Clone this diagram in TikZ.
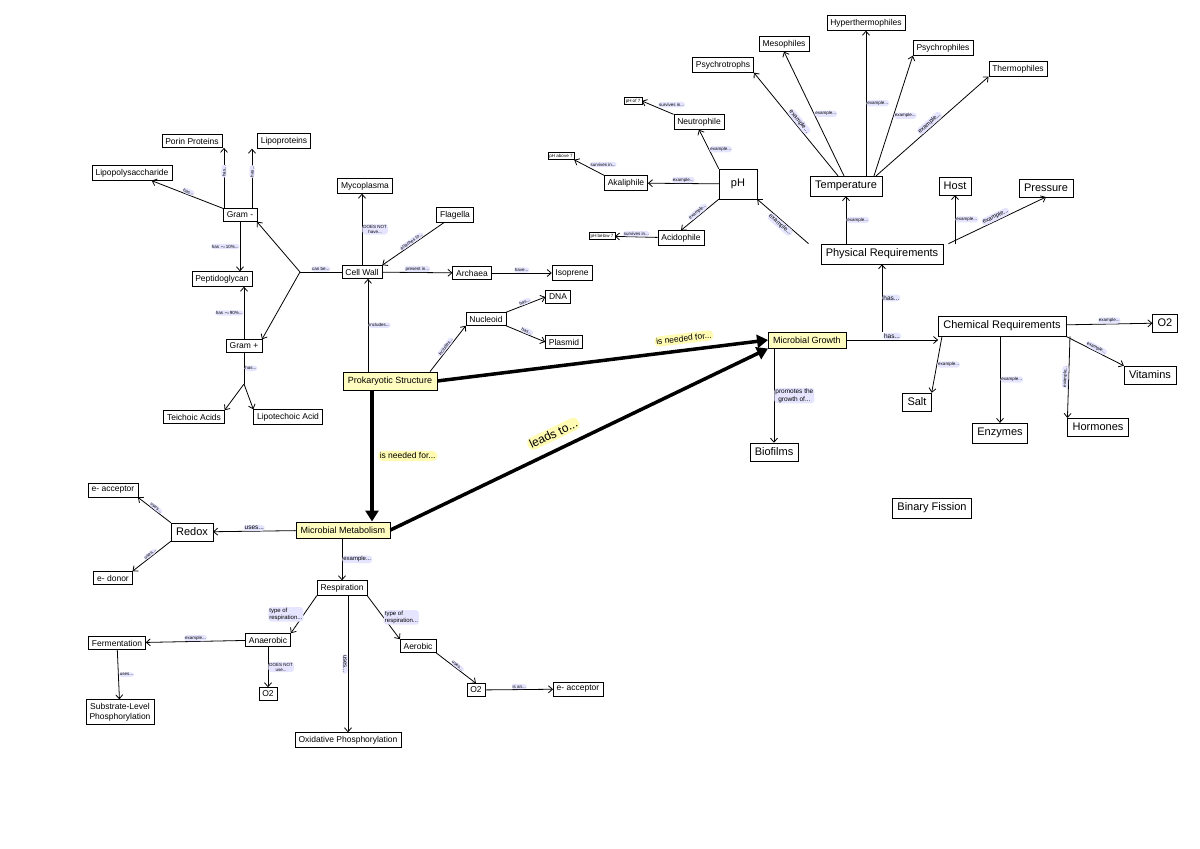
\documentclass[tikz,border=0pt]{standalone}
\usepackage{fontspec}
\setmainfont{Liberation Sans}
\usetikzlibrary{arrows.meta}
\tikzset{
  box/.style={draw, inner sep=3.5pt, font=\fontsize{8.5}{10}\selectfont, align=center},
  bigbox/.style={box, inner sep=5pt, font=\fontsize{11}{12}\selectfont},
  tiny/.style={box, inner sep=1.5pt, font=\fontsize{4.5}{5}\selectfont},
  key/.style={box, fill=yellow!25, inner sep=5pt, font=\fontsize{9}{10}\selectfont},
  lab/.style={fill=blue!10, rounded corners=3pt, inner sep=1pt, font=\fontsize{4.5}{5}\selectfont, align=center},
  arr/.style={-{Straight Barb[length=4pt,width=7pt]}, thick},
  big/.style={-{Triangle[length=11pt,width=13pt]}, line width=3.5pt},
  hl/.style={fill=yellow!30, rounded corners=5pt, inner sep=2pt, font=\fontsize{8.5}{9}\selectfont}
}
\begin{document}
\begin{tikzpicture}[x=1pt,y=-1pt]
	\useasboundingbox (0,0) rectangle (1200,849);
	% Prokaryotic Structure %
	\node[box] (porin) at (192,141) {Porin Proteins};
	\node[box] (lipopro) at (284,141) {Lipoproteins};
	\node[box] (lps) at (132,173) {Lipopolysaccharide};
	\node[box] (gramn) at (240,215) {Gram -};
	\node[box] (pepti) at (222,279) {Peptidoglycan};
	\node[box] (gramp) at (244,346) {Gram +};
	\node[box] (teich) at (194,417) {Teichoic Acids};
	\node[box] (lipot) at (288,417) {Lipotechoic Acid};
	\node[box] (myco) at (365,186) {Mycoplasma};
	\node[box] (flag) at (455,215) {Flagella};
	\node[box] (wall) at (362,272) {Cell Wall};
	\node[box] (arch) at (472,273) {Archaea};
	\node[box] (iso) at (572,273) {Isoprene};
	\node[box] (dna) at (558,297) {DNA};
	\node[box] (nucl) at (486,319) {Nucleoid};
	\node[box] (plas) at (564,342) {Plasmid};
	\node[key] (pro) at (390,381) {Prokaryotic Structure};
	\coordinate (fork1) at (300,272);
	\coordinate (fork2) at (244,384);
	\draw[arr] (gramn) -- node[lab, sloped, above] {has...} (lps);
	\draw[arr] ([xshift=-16pt]gramn.north) -- node[lab, sloped, right] {has...} ([xshift=-16pt]gramn.north |- porin.south);
	\draw[arr] ([xshift=12pt]gramn.north) -- node[lab, sloped, right] {has...} ([xshift=12pt]gramn.north |- lipopro.south);
	\draw[arr] (gramn.south) -- node[lab, left] {has $\sim$10\%...} (gramn.south |- pepti.north);
	\draw[arr] (gramp.north) -- node[lab, left] {has $\sim$90\%...} (gramp.north |- pepti.south);
	\draw[thick] (wall) -- node[lab, above] {can be...} (fork1);
	\draw[arr] (fork1) -- (gramn.south east);
	\draw[arr] (fork1) -- (gramp.north east);
	\draw[thick] (gramp) -- node[lab, right] {has...} (fork2);
	\draw[arr] (fork2) -- (teich.north east);
	\draw[arr] (fork2) -- (lipot.north west);
	\draw[arr] (wall.north) -- node[lab, right] {DOES NOT\\have...} (wall.north |- myco.south);
	\draw[arr] (flag) -- node[lab, sloped, above] {attaches to...} (wall.north east);
	\draw[arr] (wall) -- node[lab, above] {present in...} (arch);
	\draw[arr] (arch) -- node[lab, above] {have...} (iso);
	\draw[arr] (nucl.north east) -- node[lab, sloped, above] {has...} (dna.west);
	\draw[arr] (nucl.south east) -- node[lab, sloped, above] {has...} (plas.west);
	\draw[arr] ([xshift=-22pt]pro.north) -- node[lab, right] {includes...} ([xshift=-22pt]pro.north |- wall.south);
	\draw[arr] ([xshift=40pt]pro.north) -- node[lab, sloped, above] {includes...} (nucl.south west);
	% Microbial Growth %
	\node[key] (growth) at (807,340) {Microbial Growth};
	\node[bigbox] (bio) at (774,452) {Biofilms};
	\node[bigbox] (chem) at (1002,326) {Chemical Requirements};
	\node[bigbox] (o2c) at (1165,323) {O2};
	\node[bigbox] (salt) at (917,402) {Salt};
	\node[bigbox] (enz) at (1000,433) {Enzymes};
	\node[bigbox] (horm) at (1098,427) {Hormones};
	\node[bigbox] (vit) at (1150,375) {Vitamins};
	\node[bigbox] (phys) at (882,254) {Physical Requirements};
	\node[bigbox] (temp) at (846,186) {Temperature};
	\node[bigbox] (host) at (955,186) {Host};
	\node[bigbox] (pres) at (1046,188) {Pressure};
	\node[bigbox, minimum width=38pt, minimum height=30pt] (ph) at (738,184) {pH};
	\node[box] (akal) at (626,183) {Akaliphile};
	\node[box] (neut) at (699,122) {Neutrophile};
	\node[box] (acid) at (681,238) {Acidophile};
	\node[tiny] (ph7) at (633,101) {pH of 7};
	\node[tiny] (phab) at (561,156) {pH above 7};
	\node[tiny] (phbe) at (602,236) {pH below 7};
	\node[box] (psyt) at (723,65) {Psychrotrophs};
	\node[box] (meso) at (784,44) {Mesophiles};
	\node[box] (hyper) at (866,23) {Hyperthermophiles};
	\node[box] (psyp) at (943,48) {Psychrophiles};
	\node[box] (therm) at (1018,69) {Thermophiles};
	\node[bigbox] (fission) at (932,508) {Binary Fission};
	\draw[arr] (growth.south -| bio.north) -- node[lab, right, font=\fontsize{6.5}{7.5}\selectfont] {promotes the\\growth of...} (bio.north);
	\draw[arr] (growth.east) -- node[lab, above, font=\fontsize{6.5}{7.5}\selectfont] {has...} (growth.east -| chem.west);
	\draw[arr] (growth.north -| phys.south) -- node[lab, right, font=\fontsize{6.5}{7.5}\selectfont] {has...} (phys.south);
	\draw[arr] (chem) -- node[lab, above] {example...} (o2c);
	\draw[arr] ([xshift=-60pt]chem.south) -- node[lab, right] {example...} (salt.north east);
	\draw[arr] (chem.south -| enz.north) -- node[lab, right] {example...} (enz.north);
	\draw[arr] ([xshift=68pt]chem.south) -- node[lab, sloped, above] {example...} (horm.north west);
	\draw[arr] (chem.south east) -- node[lab, sloped, above] {example...} (vit.north west);
	\draw[arr] (phys.north -| temp.south) -- node[lab, right] {example...} (temp.south);
	\draw[arr] (phys.north -| host.south) -- node[lab, right] {example...} (host.south);
	\draw[arr] ([xshift=5pt]phys.north east) -- node[lab, sloped, above, font=\fontsize{6}{7}\selectfont] {example...} (pres.south);
	\draw[arr] ([xshift=-12pt]phys.north west) -- node[lab, sloped, below, font=\fontsize{6}{7}\selectfont] {example...} (ph.south east);
	\draw[arr] (ph) -- node[lab, above] {example...} (akal);
	\draw[arr] (ph.north west) -- node[lab, right] {example...} (neut.south);
	\draw[arr] (ph.south west) -- node[lab, sloped, above] {example...} (acid.north);
	\draw[arr] (akal.north west) -- node[lab, above right] {survives in...} (phab.south east);
	\draw[arr] (neut.north west) -- node[lab, above right] {survives in...} (ph7.east);
	\draw[arr] (acid) -- node[lab, above] {survives in...} (phbe);
	\draw[arr] ([xshift=-8pt]temp.north) -- node[lab, sloped, above, font=\fontsize{6}{7}\selectfont] {example...} (psyt.south east);
	\draw[arr] ([xshift=-2pt]temp.north) -- node[lab, right] {example...} (meso.south);
	\draw[arr] ([xshift=20pt]temp.north) -- node[lab, right] {example...} (hyper.south);
	\draw[arr] ([xshift=28pt]temp.north) -- node[lab, right] {example...} (psyp.south west);
	\draw[arr] ([xshift=-6pt]temp.north east) -- node[lab, sloped, above, font=\fontsize{6}{7}\selectfont] {example...} (therm.south west);
	% Microbial Metabolism %
	\node[key] (meta) at (343,530) {Microbial Metabolism};
	\node[bigbox] (redox) at (192,532) {Redox};
	\node[box] (eacc) at (113,490) {e- acceptor};
	\node[box] (edon) at (113,578) {e- donor};
	\node[box] (resp) at (342,588) {Respiration};
	\node[box] (anae) at (268,640) {Anaerobic};
	\node[box] (aero) at (418,646) {Aerobic};
	\node[box] (ferm) at (117,643) {Fermentation};
	\node[box] (slp) at (120,712) {Substrate-Level\\Phosphorylation};
	\node[box] (o2a) at (268,694) {O2};
	\node[box] (o2b) at (476,690) {O2};
	\node[box] (eacc2) at (578,689) {e- acceptor};
	\node[box] (oxph) at (348,740) {Oxidative Phosphorylation};
	\draw[arr] (meta) -- node[lab, above, font=\fontsize{6.5}{7.5}\selectfont] {uses...} (redox);
	\draw[arr] (redox.north west) -- node[lab, sloped, above] {uses...} (eacc.south east);
	\draw[arr] (redox.south west) -- node[lab, sloped, above] {uses...} (edon.north east);
	\draw[arr] (meta.south -| resp.north) -- node[lab, right, font=\fontsize{6}{7}\selectfont] {example...} (resp.north);
	\draw[arr] (resp.south west) -- node[lab, left, font=\fontsize{6}{7}\selectfont, align=left] {type of\\respiration...} (anae.north east);
	\draw[arr] (resp.south east) -- node[lab, right, font=\fontsize{6}{7}\selectfont, align=left] {type of\\respiration...} (aero.north west);
	\draw[arr] (resp.south -| oxph.north) -- node[lab, sloped, below, font=\fontsize{6}{7}\selectfont] {uses...} (oxph.north);
	\draw[arr] (anae) -- node[lab, above] {example...} (ferm);
	\draw[arr] (anae) -- node[lab, right] {DOES NOT\\use...} (o2a);
	\draw[arr] (ferm) -- node[lab, right] {uses...} (slp);
	\draw[arr] (aero.south east) -- node[lab, sloped, above] {uses...} (o2b.north);
	\draw[arr] (o2b) -- node[lab, above] {is an...} (eacc2);
	% Big links %
	\draw[big] (pro.east) -- node[hl, sloped, pos=0.75, above=5pt] {is needed for...} (growth.west);
	\draw[big] (meta.east) -- node[hl, sloped, pos=0.45, above=8pt, font=\fontsize{12}{13}\selectfont] {leads to...} (growth.south west);
	\draw[big] ([xshift=-18pt]pro.south) -- node[hl, right=4pt] {is needed for...} ([xshift=-18pt]pro.south |- meta.north);
\end{tikzpicture}
\end{document}
